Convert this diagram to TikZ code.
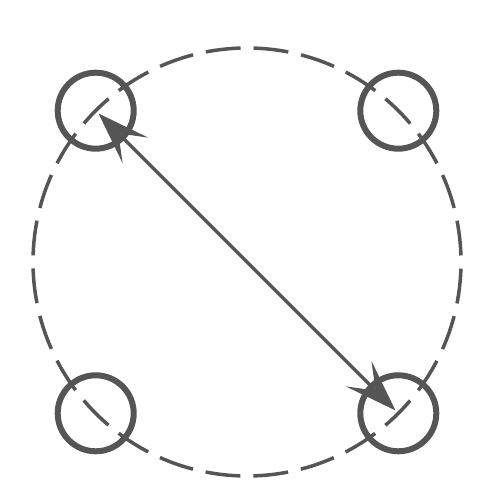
\documentclass[tikz,border=0pt]{standalone}
\usepackage{tikz}
\usetikzlibrary{arrows.meta}
\definecolor{siva}{HTML}{555555}
\tikzset{ring/.style={circle,draw=siva,line width=0.06cm,minimum size=0.76cm,inner sep=0pt}}
\begin{document}
\begin{tikzpicture}
\useasboundingbox (0,0) rectangle (5,5);
%velik krog
\draw[siva,line width=0.035cm,dash pattern=on 0.35cm off 0.1302cm,dash phase=0.4151cm] (2.47,2.38) circle (2.14);

%mali krogi
\node[ring] (A) at (0.957,3.893) {};
\node[ring] (B) at (3.983,3.893) {};
\node[ring] (C) at (0.957,0.867) {};
\node[ring] (D) at (3.983,0.867) {};

\draw[siva,line width=0.035cm,shorten <=0.04cm,shorten >=0.04cm,{Stealth[length=0.52cm,width=0.36cm,inset=0.24cm]}-{Stealth[length=0.52cm,width=0.36cm,inset=0.24cm]}] (A.center)--(D.center);
\end{tikzpicture}
\end{document}
